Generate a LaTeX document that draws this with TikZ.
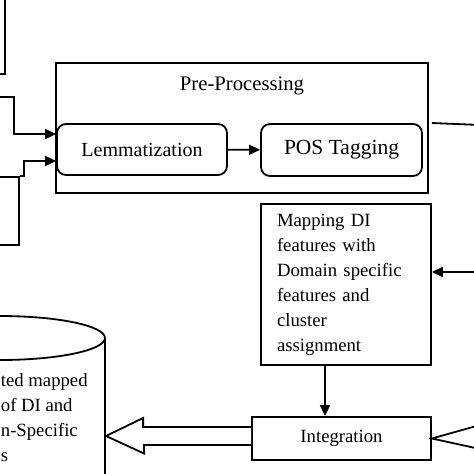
\documentclass[tikz,border=0pt]{standalone}
\usepackage{fontspec}
\setmainfont{Liberation Serif}
\usetikzlibrary{arrows.meta}

\begin{document}
\begin{tikzpicture}[
        x=1pt, y=-1pt,
        line width=1.8pt,
        box/.style={draw, rectangle, inner sep=0pt},
        rbox/.style={draw, rectangle, rounded corners=9pt, inner sep=0pt},
        arr/.style={-{Triangle[length=11pt,width=10pt]}},
        every node/.style={align=center, font=\fontsize{18.7}{25}\selectfont},
    ]
    \clip (0,0) rectangle (474,474);
    \node[box, minimum width=140pt, minimum height=120pt] (src1) at (-65,14) {};
    \node[box, minimum width=140pt, minimum height=68pt] (src2) at (-51,211) {};
    \node[box, minimum width=372pt, minimum height=130pt] (pre) at (242,128) {};
    \node[font=\fontsize{20.7}{24}\selectfont] (pretitle) at (242,86) {Pre-Processing};
    \node[rbox, minimum width=170pt, minimum height=51pt, font=\fontsize{20}{24}\selectfont] (lem) at (142,149.5) {Lemmatization};
    \node[rbox, minimum width=161pt, minimum height=52pt, font=\fontsize{21.5}{24}\selectfont] (pos) at (341.5,150) {POS Tagging};
    \node[box, minimum width=170pt, minimum height=161pt, text width=138pt, align=left] (map) at (346,284.5)
        {Mapping DI\\features with\\Domain specific\\features and\\cluster\\assignment};
    \node[box, minimum width=179pt, minimum height=43pt] (integ) at (341.5,438.5) {Integration};
    \draw (0,338) ellipse [x radius=105, y radius=22];
    \draw (105,338) -- (105,490);
    \node[anchor=west, align=left, inner sep=0pt] (storetxt) at (0,418) {ted mapped\\of DI and\\n-Specific\\s};
    \coordinate (store) at (106,436);
    \coordinate (in1) at (-5,97);
    \coordinate (out1) at (480,125);
    \coordinate (in3) at (480,272);
    \coordinate (in4a) at (480,425);
    \coordinate (in4b) at (480,449);
    \coordinate (hs) at ([yshift=2.5pt]integ.west);
    \draw[arr] (in1) -- ++(19,0) |- ([yshift=15.5pt]lem.west);
    \draw[arr] (src2.north east) -- ++(4,0) |- ([yshift=-11.5pt]lem.west);
    \draw[arr] (lem) -- (pos);
    \draw ([xshift=3pt,yshift=5pt]pre.east) -- (out1);
    \draw[arr] (in3) -- (in3 -| map.east);
    \draw[arr] ([xshift=-21pt]map.south) -- ([xshift=-21pt]map.south |- integ.north);
    \draw[fill=white] ([yshift=9pt]hs) -- ++(-108,0) -- ++(0,-9) -- (store) -- ++(38,17.5) -- ++(0,-8.5) -- ([yshift=-9pt]hs);
    \draw (in4a) -- (integ.east) -- (in4b);
\end{tikzpicture}
\end{document}
